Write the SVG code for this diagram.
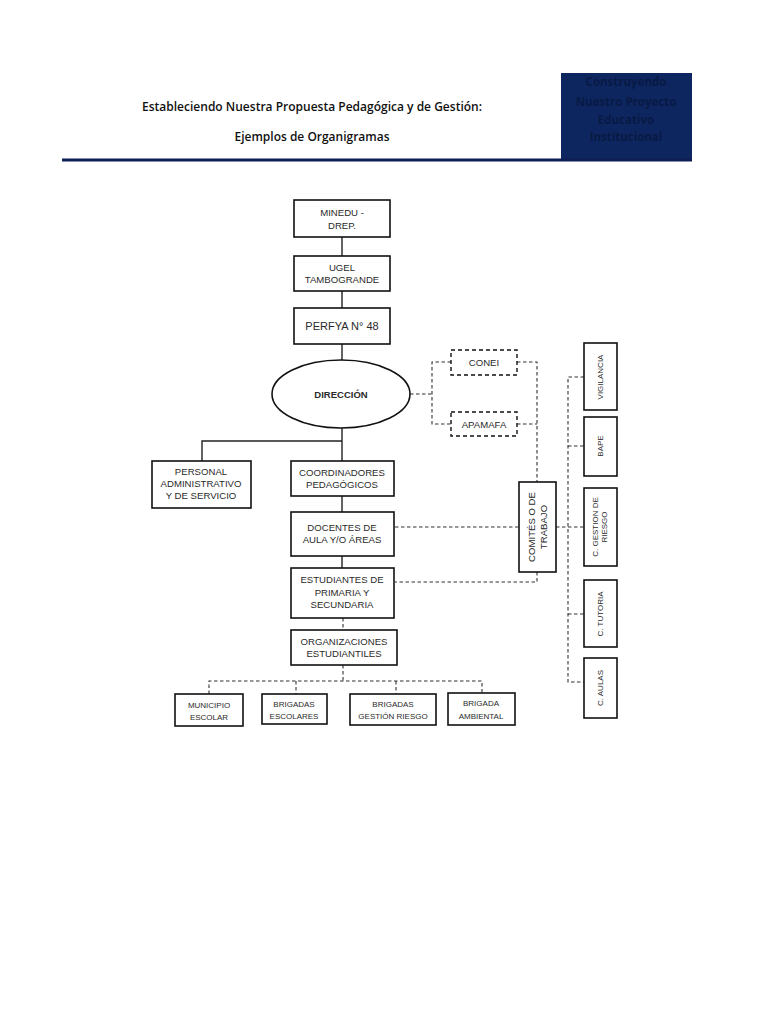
<svg xmlns="http://www.w3.org/2000/svg" width="768" height="1024" viewBox="0 0 768 1024">
<style>
.hd{font-family:"Open Sans","Liberation Sans",sans-serif;font-weight:600;font-size:12.5px;fill:#111;text-anchor:middle}
.bx{font-family:"Open Sans","Liberation Sans",sans-serif;font-weight:700;font-size:11.5px;fill:#081a45;text-anchor:middle}
.n{fill:#fff;stroke:#111;stroke-width:1.6}
.nd{fill:#fff;stroke:#111;stroke-width:1.4;stroke-dasharray:4 3}
.t{font-family:"Liberation Sans",Arial,sans-serif;font-size:9.6px;fill:#2a2a2a;text-anchor:middle}
.ts{font-family:"Liberation Sans",Arial,sans-serif;font-size:8px;fill:#2a2a2a;text-anchor:middle}
.s{fill:none;stroke:#222;stroke-width:1.4}
.d{fill:none;stroke:#333;stroke-width:1.1;stroke-dasharray:3.5 2.5}
</style>
<rect width="768" height="1024" fill="#fff"/>
<g id="header">
<text class="hd" x="312" y="111" textLength="340" lengthAdjust="spacingAndGlyphs">Estableciendo Nuestra Propuesta Pedagógica y de Gestión:</text>
<text class="hd" x="312" y="141" textLength="155" lengthAdjust="spacingAndGlyphs">Ejemplos de Organigramas</text>
<rect x="561" y="73" width="131" height="86" fill="#0e265f"/>
<line x1="62" y1="160" x2="692" y2="160" stroke="#0e1f55" stroke-width="3"/>
<text class="bx" x="626" y="86">Construyendo</text>
<text class="bx" x="626" y="106">Nuestro Proyecto</text>
<text class="bx" x="626" y="124">Educativo</text>
<text class="bx" x="626" y="141">Institucional</text>
</g>
<g id="connectors">
<line class="s" x1="342" y1="237" x2="342" y2="256"/>
<line class="s" x1="342" y1="291" x2="342" y2="308"/>
<line class="s" x1="342" y1="344" x2="342" y2="360"/>
<polyline class="s" points="342,428 342,461"/>
<polyline class="s" points="342,441 202,441 202,461"/>
<line class="s" x1="342" y1="496" x2="342" y2="512"/>
<line class="s" x1="342" y1="556" x2="342" y2="568"/>
<line class="d" x1="343" y1="618" x2="343" y2="630"/>
<polyline class="d" points="410,394 432,394"/>
<polyline class="d" points="451,362 432,362 432,424 451,424"/>
<polyline class="d" points="517,362 537,362 537,482"/>
<polyline class="d" points="517,424 537,424"/>
<polyline class="d" points="395,527 519,527"/>
<polyline class="d" points="556,527 584,527"/>
<polyline class="d" points="537,572 537,582 395,582"/>
<polyline class="d" points="584,377 568,377 568,682 584,682"/>
<polyline class="d" points="568,446 584,446"/>
<polyline class="d" points="568,614 584,614"/>
<polyline class="d" points="343,665 343,681"/>
<polyline class="d" points="209,694 209,681 482,681 482,693"/>
<line class="d" x1="296" y1="681" x2="296" y2="694"/>
<line class="d" x1="396" y1="681" x2="396" y2="694"/>
</g>
<g id="minedu"><rect class="n" x="294" y="200" width="96" height="37"/><text class="t" x="342" y="216">MINEDU -</text><text class="t" x="342" y="229">DREP.</text></g>
<g id="ugel"><rect class="n" x="294" y="256" width="96" height="35"/><text class="t" x="342" y="271">UGEL</text><text class="t" x="342" y="283">TAMBOGRANDE</text></g>
<g id="perfya"><rect class="n" x="294" y="308" width="96" height="36"/><text class="t" x="342" y="330" style="font-size:11px">PERFYA N° 48</text></g>
<g id="direccion"><ellipse class="n" cx="341" cy="394" rx="69" ry="34"/><text class="t" x="341" y="398" style="font-weight:bold;font-size:9.5px">DIRECCIÓN</text></g>
<g id="conei"><rect class="nd" x="451" y="350" width="66" height="25"/><text class="t" x="484" y="366">CONEI</text></g>
<g id="apamafa"><rect class="nd" x="451" y="412" width="66" height="24"/><text class="t" x="484" y="428">APAMAFA</text></g>
<g id="personal"><rect class="n" x="152" y="461" width="99" height="47"/><text class="t" x="201" y="475">PERSONAL</text><text class="t" x="201" y="487">ADMINISTRATIVO</text><text class="t" x="201" y="499">Y DE SERVICIO</text></g>
<g id="coordinadores"><rect class="n" x="291" y="461" width="103" height="35"/><text class="t" x="342" y="476">COORDINADORES</text><text class="t" x="342" y="488">PEDAGÓGICOS</text></g>
<g id="docentes"><rect class="n" x="291" y="512" width="103" height="44"/><text class="t" x="342" y="531">DOCENTES DE</text><text class="t" x="342" y="543">AULA Y/O ÁREAS</text></g>
<g id="estudiantes"><rect class="n" x="291" y="568" width="103" height="50"/><text class="t" x="342" y="583">ESTUDIANTES DE</text><text class="t" x="342" y="596">PRIMARIA Y</text><text class="t" x="342" y="608">SECUNDARIA</text></g>
<g id="organizaciones"><rect class="n" x="291" y="630" width="106" height="35"/><text class="t" x="344" y="645">ORGANIZACIONES</text><text class="t" x="344" y="657">ESTUDIANTILES</text></g>
<g id="comites"><rect class="n" x="519" y="482" width="37" height="90"/><text class="t" transform="translate(535,527) rotate(-90)" y="0">COMITÉS O DE</text><text class="t" transform="translate(547,527) rotate(-90)" y="0">TRABAJO</text></g>
<g id="vigilancia"><rect class="n" x="584" y="343" width="33" height="67"/><text class="ts" transform="translate(603,377) rotate(-90)">VIGILANCIA</text></g>
<g id="bape"><rect class="n" x="584" y="417" width="33" height="59"/><text class="ts" transform="translate(603,446) rotate(-90)">BAPE</text></g>
<g id="gestion"><rect class="n" x="584" y="488" width="33" height="78"/><text class="ts" transform="translate(598,527) rotate(-90)">C.  GESTION DE</text><text class="ts" transform="translate(607,527) rotate(-90)">RIESGO</text></g>
<g id="tutoria"><rect class="n" x="584" y="580" width="33" height="67"/><text class="ts" transform="translate(603,614) rotate(-90)">C. TUTORIA</text></g>
<g id="aulas"><rect class="n" x="584" y="658" width="33" height="60"/><text class="ts" transform="translate(603,688) rotate(-90)">C. AULAS</text></g>
<g id="municipio"><rect class="n" x="175" y="694" width="68" height="32"/><text class="ts" x="209" y="708">MUNICIPIO</text><text class="ts" x="209" y="720">ESCOLAR</text></g>
<g id="brigadas-escolares"><rect class="n" x="262" y="694" width="65" height="30"/><text class="ts" x="294" y="707">BRIGADAS</text><text class="ts" x="294" y="719">ESCOLARES</text></g>
<g id="brigadas-gestion"><rect class="n" x="350" y="694" width="86" height="31"/><text class="ts" x="393" y="707">BRIGADAS</text><text class="ts" x="393" y="719">GESTIÓN RIESGO</text></g>
<g id="brigada-ambiental"><rect class="n" x="448" y="693" width="67" height="32"/><text class="ts" x="481" y="706">BRIGADA</text><text class="ts" x="481" y="719">AMBIENTAL</text></g>
</svg>
